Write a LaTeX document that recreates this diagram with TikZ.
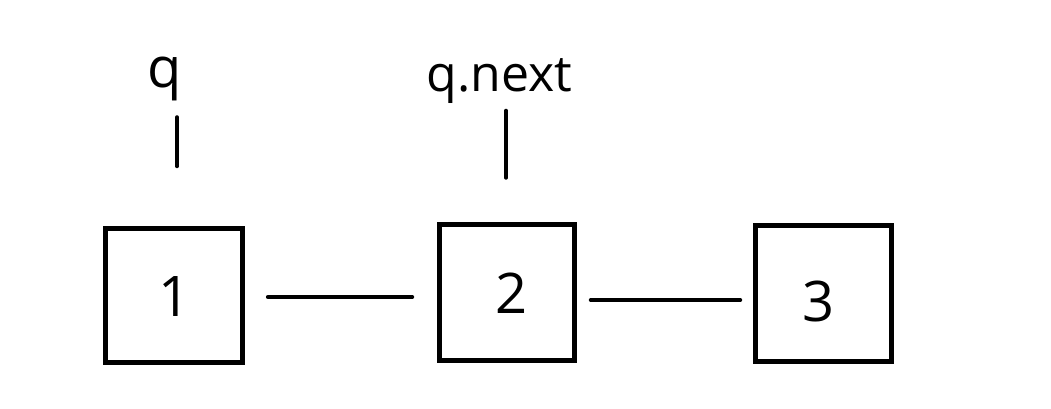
\documentclass[tikz,border=0pt]{standalone}
\usepackage{fontspec}
\setmainfont{Open Sans}
\usetikzlibrary{calc}
\begin{document}
\begin{tikzpicture}[x=0.75pt,y=-0.75pt,
  box/.style={draw,line width=3.4pt,rectangle,inner sep=0pt},
  digit/.style={font=\fontsize{42}{48}\selectfont,inner sep=0pt},
  conn/.style={line width=3pt,line cap=round},
  lbl/.style={inner sep=0pt,anchor=base}]
\useasboundingbox[fill=white] (0,0) rectangle (1051,409);
\node[box,minimum width=103pt,minimum height=100.5pt] (b1) at (174,295.5) {};
\node[box,minimum width=101.25pt,minimum height=102pt] (b2) at (507,292.5) {};
\node[box,minimum width=102pt,minimum height=102pt] (b3) at (823.5,293.5) {};
\node[digit] (d1) at (174.5,297) {1};
\node[digit] (d2) at (512,293) {2};
\node[digit] (d3) at (819,302) {3};
\node[lbl,font=\fontsize{42}{48}\selectfont] (lq) at (165,88) {q};
\node[lbl,font=\fontsize{37.5}{44}\selectfont] (lqn) at (499.5,92) {q.next};
\draw[conn,shorten <=17.25pt,shorten >=18.75pt] ($(b1.east)+(0,1.5)$) -- ($(b2.west|-b1.east)+(0,1.5)$);
\draw[conn,shorten <=10.5pt,shorten >=9.75pt] ($(b2.east)+(0,7.5)$) -- ($(b3.west|-b2.east)+(0,7.5)$);
\draw[conn] (b1.north) ++(3,-60) -- ++(0,-49);
\draw[conn] (b2.north) ++(-1,-44.5) -- ++(0,-67);
\end{tikzpicture}
\end{document}
